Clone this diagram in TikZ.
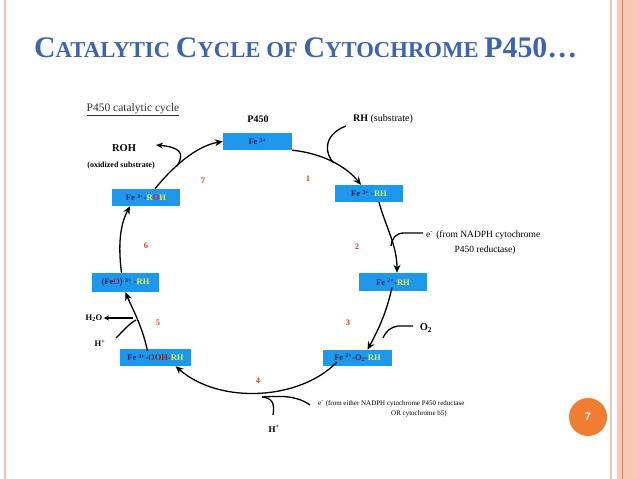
\documentclass[tikz,border=0pt]{standalone}
\usepackage{fontspec}
\setmainfont{Liberation Serif}
\newfontfamily\numfont{Liberation Sans}
\usetikzlibrary{arrows.meta}
\definecolor{boxblue}{RGB}{30,152,234}
\definecolor{navy}{RGB}{25,35,95}
\definecolor{rhgreen}{RGB}{215,240,90}
\definecolor{ored}{RGB}{200,30,60}
\definecolor{opurple}{RGB}{120,50,130}
\definecolor{ooh}{RGB}{120,40,30}
\definecolor{numred}{RGB}{205,70,45}
\definecolor{titleblue}{RGB}{60,100,175}
\definecolor{pinkline}{RGB}{242,195,175}
\definecolor{pinkband}{RGB}{250,200,182}
\definecolor{orangeline}{RGB}{235,135,95}
\definecolor{pageorange}{RGB}{240,125,50}
\newcommand\bigsc[1]{{\fontsize{21}{21}\selectfont #1}}
\newcommand\smsc[1]{{\fontsize{16}{16}\selectfont #1}}
\newcommand\RHg{{\color{rhgreen}RH}}
\tikzset{
  fbox/.style={fill=boxblue, text=navy, font=\fontsize{8.5}{9}\selectfont\bfseries, inner sep=0pt, minimum width=68pt, minimum height=17pt},
  lbl/.style={font=\fontsize{9.5}{10}\selectfont\bfseries, text=black, inner sep=0pt},
  note/.style={font=\fontsize{7}{8.5}\selectfont, text=black, inner sep=0pt},
  num/.style={font=\fontsize{8.5}{9}\selectfont\bfseries, text=numred, inner sep=0pt},
  cyc/.style={line width=1.3pt, black, -{Stealth[length=8pt,width=7pt]}},
  br/.style={line width=1.3pt, black},
}
\begin{document}
\begin{tikzpicture}[x=1pt,y=-1pt]
\useasboundingbox (0,0) rectangle (638,479);
\fill[white] (0,0) rectangle (638,479);
% borders
\draw[pinkline, line width=1.6pt] (5,0) -- (5,479);
\draw[pinkline, line width=2pt] (611,0) -- (611,479);
\fill[pinkband] (617,0) rectangle (638,479);
\draw[orangeline, line width=0.9pt] (622,0) -- (622,479);
% title
\node[anchor=west, inner sep=0pt, text=titleblue, font=\bfseries] (title) at (34,48)
 {\resizebox{543pt}{!}{\fontsize{16}{16}\selectfont\bigsc{C}\smsc{ATALYTIC} \bigsc{C}\smsc{YCLE OF} \bigsc{C}\smsc{YTOCHROME} \bigsc{P450\ldots}}};
% page number
\node[circle, fill=pageorange, minimum size=38pt, inner sep=0pt, text=white, font=\numfont\bfseries\fontsize{11}{11}\selectfont] (page) at (588,417) {7};
% heading
\node[inner sep=1pt, font=\fontsize{11.5}{12}\selectfont, text=black!80] (head) at (133,110) {\underline{P450 catalytic cycle}};
% boxes
\node[fbox, minimum width=69pt] (fe3) at (257.5,141.5) {Fe \textsuperscript{3+}};
\node[fbox] (fe3rh) at (369,193.5) {Fe \textsuperscript{3+} -\RHg};
\node[fbox, minimum height=18pt] (fe2rh) at (393,282) {Fe \textsuperscript{2+}-\RHg};
\node[fbox, minimum width=69pt, minimum height=16pt] (fe2o2) at (357.5,358) {Fe \textsuperscript{2+}-O\textsubscript{2}-\RHg};
\node[fbox, minimum width=71pt] (fe3ooh) at (155.5,357.5) {Fe \textsuperscript{3+}-{\color{ooh}OOH}-\RHg};
\node[fbox, minimum width=67pt, minimum height=19pt] (feo) at (125.5,282.5) {(Fe{\color{opurple}O}) \textsuperscript{3+} -\RHg};
\node[fbox] (fe3roh) at (146,197.5) {Fe \textsuperscript{3+}-{\color{rhgreen}R}{\color{ored}O}{\color{rhgreen}H}};
% labels
\node[lbl, font=\fontsize{10}{10}\selectfont\bfseries] (p450) at (258,119) {P450};
\node[lbl, font=\fontsize{10}{10}\selectfont\bfseries] (rh) at (383,119) {RH {\mdseries(substrate)}};
\node[lbl, font=\fontsize{10.5}{11}\selectfont\bfseries] (roh) at (124,148) {ROH};
\node[lbl, font=\fontsize{8}{9}\selectfont\bfseries] (ox) at (121,166) {(oxidized substrate)};
\node[note, font=\fontsize{9.5}{10}\selectfont, anchor=west] (e1) at (426,235) {e\textsuperscript{-}\,\,(from NADPH cytochrome};
\node[note, font=\fontsize{9.5}{10}\selectfont] (e1b) at (485,250) {P450 reductase)};
\node[lbl, font=\fontsize{10.5}{11}\selectfont\bfseries] (o2) at (426,328) {O\textsubscript{2}};
\node[note, anchor=west] (e2) at (318,404) {e\textsuperscript{-}\,\,(from either NADPH cytochrome P450 reductase};
\node[note] (e2b) at (419,414) {OR cytochrome b5)};
\node[lbl, font=\fontsize{9}{9}\selectfont\bfseries] (hp4) at (274,429) {H\textsuperscript{+}};
\node[lbl, font=\fontsize{8.5}{9}\selectfont\bfseries] (h2o) at (94,318) {H\textsubscript{2}O};
\node[lbl, font=\fontsize{8.5}{9}\selectfont\bfseries] (hp5) at (100,343) {H\textsuperscript{+}};
% numbers
\node[num] (n1) at (308,179) {1};
\node[num] (n2) at (357,247) {2};
\node[num] (n3) at (348,323) {3};
\node[num] (n4) at (258,381) {4};
\node[num] (n5) at (158,323) {5};
\node[num] (n6) at (146,246) {6};
\node[num] (n7) at (203,181) {7};
% branch coordinates
\coordinate (j7) at (177,166);
\coordinate (rohend) at (156,145);
\coordinate (rhstart) at (346,126);
\coordinate (j1) at (334,163);
\coordinate (estart1) at (423,233);
\coordinate (j2) at (391,246);
\coordinate (o2start) at (413,326);
\coordinate (j3) at (383,338);
\coordinate (estart2) at (310,405);
\coordinate (hstart4) at (273,415);
\coordinate (j4) at (262,397);
\coordinate (j5a) at (133,318);
\coordinate (h2oend) at (104,318);
\coordinate (hstart5) at (116,338);
% main cycle arrows
\draw[cyc] ([xshift=9pt]fe3roh.north) .. controls (170,170) and (195,146) .. (fe3.west);
\draw[cyc] (fe3.south east) .. controls (320,153) and (345,165) .. ([xshift=-8pt]fe3rh.north);
\draw[cyc] ([xshift=10pt]fe3rh.south) .. controls (385,225) and (397,245) .. ([xshift=4pt]fe2rh.north);
\draw[cyc] ([shift={(-1pt,4pt)}]fe2rh.south) .. controls (386,315) and (377,332) .. ([xshift=10pt]fe2o2.north);
\draw[cyc] ([shift={(14pt,4pt)}]fe2o2.south west) .. controls (300,400) and (220,405) .. ([xshift=20pt]fe3ooh.south);
\draw[cyc] ([shift={(-8pt,-2pt)}]fe3ooh.north) .. controls (142,325) and (131,306) .. (feo.south);
\draw[cyc] ([xshift=-4pt]feo.north) .. controls (118,245) and (120,225) .. ([xshift=-16pt]fe3roh.south);
% branches
\draw[br, -{Stealth[length=7pt,width=6pt]}] (j7) .. controls (186,152) and (178,147) .. (rohend);
\draw[br] (rhstart) .. controls (322,135) and (325,155) .. (j1);
\draw[br] (estart1) -- (404,233) .. controls (396,233) and (392,238) .. (j2);
\draw[br] (o2start) -- (398,326) .. controls (391,327) and (386,331) .. (j3);
\draw[br] (estart2) .. controls (296,395) and (280,396) .. (j4);
\draw[br] (hstart4) .. controls (275,403) and (272,398) .. (j4);
\draw[br, -{Stealth[length=5pt,width=5pt]}] (j5a) -- (h2oend);
\draw[br] (hstart5) .. controls (124,330) and (130,323) .. (136,320);
\end{tikzpicture}
\end{document}
